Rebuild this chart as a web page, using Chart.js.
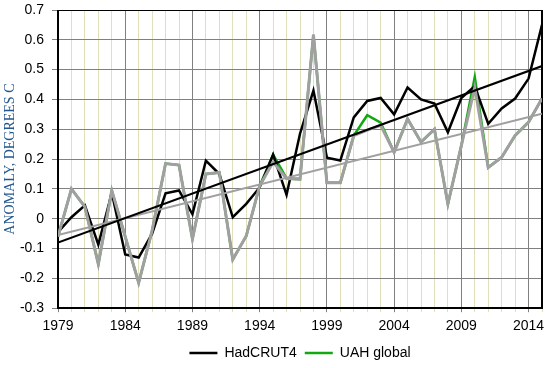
<!DOCTYPE html>
<html>
<head>
<meta charset="utf-8">
<script src="https://cdn.jsdelivr.net/npm/chart.js@4/dist/chart.umd.min.js"></script>
<style>
  html, body { margin: 0; padding: 0; background: #fff; }
  #wrap { width: 557px; height: 368px; }
</style>
</head>
<body>
<div id="wrap"><canvas id="c" width="557" height="368"></canvas></div>
<script>
// ---- data ----
const years = [1979,1980,1981,1982,1983,1984,1985,1986,1987,1988,1989,1990,1991,1992,1993,1994,1995,1996,1997,1998,1999,2000,2001,2002,2003,2004,2005,2006,2007,2008,2009,2010,2011,2012,2013,2014,2015];
const hadcrut4 = [-0.045,0.005,0.045,-0.087,0.087,-0.12,-0.13,-0.05,0.085,0.095,0.015,0.195,0.15,0.005,0.05,0.105,0.215,0.08,0.285,0.43,0.205,0.195,0.34,0.395,0.405,0.35,0.44,0.40,0.386,0.29,0.405,0.445,0.318,0.37,0.403,0.47,0.65];
const satGray = [-0.06,0.10,0.04,-0.152,0.095,-0.06,-0.215,-0.04,0.185,0.18,-0.068,0.15,0.155,-0.137,-0.058,0.11,0.19,0.135,0.133,0.617,0.121,0.121,0.279,0.297,0.313,0.223,0.335,0.257,0.30,0.049,0.245,0.44,0.172,0.206,0.279,0.324,0.403];
const uahGlobal = [-0.06,0.10,0.04,-0.152,0.095,-0.06,-0.215,-0.04,0.185,0.18,-0.068,0.15,0.155,-0.137,-0.058,0.11,0.215,0.135,0.133,0.617,0.121,0.121,0.279,0.347,0.322,0.223,0.335,0.257,0.30,0.049,0.245,0.476,0.172,0.206,0.279,0.324,0.403];
const trendYears = [1979, 2015];
const hadcrutTrend = [-0.08, 0.512];
const grayTrend = [-0.055, 0.352];
const majorYears = [1979,1984,1989,1994,1999,2004,2009,2014];
const yMin = -0.3, yMax = 0.7, yStep = 0.1;

const pts = (xs, ys) => xs.map((x, i) => ({x: x, y: ys[i]}));

const framePlugin = {
  id: 'frame',
  beforeDatasetsDraw(chart) {
    const a = chart.chartArea, ctx = chart.ctx;
    ctx.save();
    ctx.strokeStyle = '#000';
    ctx.lineWidth = 1;
    ctx.beginPath();
    ctx.moveTo(a.left, Math.round(a.top) + 0.5);
    ctx.lineTo(a.right, Math.round(a.top) + 0.5);
    ctx.stroke();
    ctx.lineWidth = 2;
    ctx.beginPath();
    ctx.moveTo(Math.round(a.left), a.top);
    ctx.lineTo(Math.round(a.left), Math.round(a.bottom));
    ctx.lineTo(Math.round(a.right), Math.round(a.bottom));
    ctx.lineTo(Math.round(a.right), a.top);
    ctx.stroke();
    ctx.restore();
  }
};

const line = (label, data, color, width) => ({
  label: label, data: data, borderColor: color, backgroundColor: color,
  borderWidth: width, pointRadius: 0, tension: 0, fill: false
});

new Chart(document.getElementById('c'), {
  type: 'line',
  data: {
    datasets: [
      line('trend1', pts(trendYears, hadcrutTrend), '#000000', 2),
      line('trend2', pts(trendYears, grayTrend), '#a0a0a0', 2),
      line('gray', pts(years, satGray), '#a0a0a0', 3),
      line('HadCRUT4', pts(years, hadcrut4), '#000000', 2.5),
      line('UAH global', pts(years, uahGlobal), '#12a812', 2.5)
    ]
  },
  options: {
    responsive: false,
    animation: false,
    devicePixelRatio: 1,
    layout: { padding: { left: 0, right: 15, top: 10, bottom: -2 } },
    plugins: {
      tooltip: { enabled: false },
      legend: {
        position: 'bottom',
        fullSize: false,
        labels: {
          filter: (item) => item.text === 'HadCRUT4' || item.text === 'UAH global',
          usePointStyle: true,
          pointStyle: 'line',
          pointStyleWidth: 28,
          padding: 8,
          color: '#000',
          font: { family: 'Liberation Sans', size: 14 },
          sort: (a, b) => (a.text === 'HadCRUT4' ? -1 : 1)
        }
      }
    },
    scales: {
      x: {
        type: 'linear',
        min: 1979, max: 2015,
        afterFit: (s) => { s.height = 29.8; s.paddingLeft = 0; s.paddingRight = 0; },
        afterBuildTicks: (s) => { s.ticks = years.map(v => ({value: v})); },
        ticks: {
          autoSkip: false, maxRotation: 0, padding: 6,
          color: '#000',
          font: { family: 'Liberation Sans', size: 14 },
          callback: (v) => majorYears.includes(v) ? String(v) : ''
        },
        grid: {
          color: (c) => majorYears.includes(c.tick && c.tick.value) ? '#808080' : '#e2dfbc',
          tickColor: (c) => majorYears.includes(c.tick && c.tick.value) ? '#808080' : '#e2dfbc',
          tickLength: 4,
          lineWidth: 1
        },
        border: { display: false }
      },
      y: {
        min: yMin, max: yMax,
        afterFit: (s) => { s.width = 58; s.paddingTop = 0; s.paddingBottom = 0; },
        ticks: {
          stepSize: yStep, padding: 8,
          color: '#000',
          font: { family: 'Liberation Sans', size: 14 },
          callback: (v) => { const r = Math.round(v * 10) / 10; return r === 0 ? '0' : r.toFixed(1); }
        },
        grid: { color: '#808080', tickColor: '#808080', tickLength: 6, lineWidth: 1 },
        border: { display: false },
        title: {
          display: true,
          text: 'ANOMALY, DEGREES C',
          color: '#23578f',
          font: { family: 'Liberation Serif', size: 14 },
          padding: { top: 2, bottom: 0 }
        }
      }
    }
  },
  plugins: [framePlugin]
});
</script>
</body>
</html>
